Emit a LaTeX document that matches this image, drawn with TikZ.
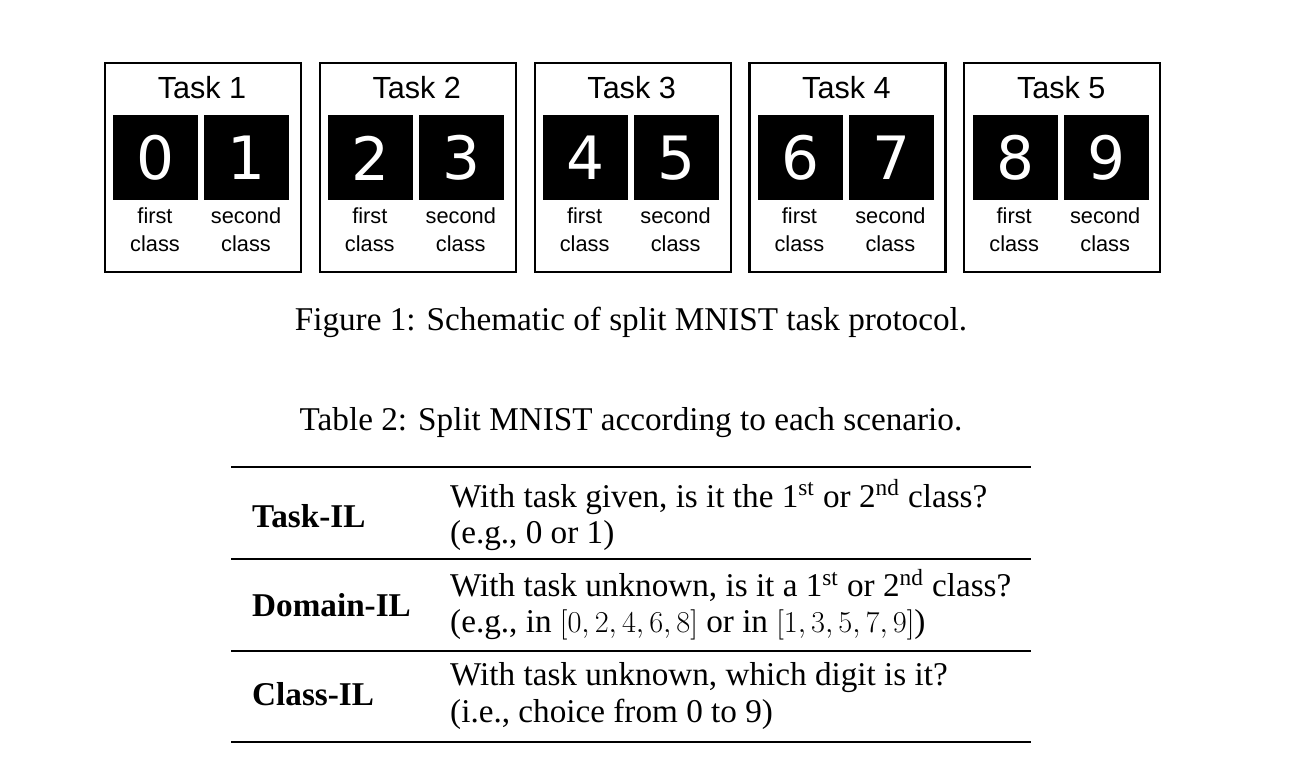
\documentclass[tikz,border=0pt]{standalone}
\usepackage{fontspec}
\setmainfont{Liberation Serif}
\newfontfamily\hv{Liberation Sans}
\newfontfamily\dg{DejaVu Sans}
\begin{document}
\begin{tikzpicture}[x=0.02cm,y=-0.02cm,
  taskbox/.style={draw,line width=1.2pt,minimum width=196*0.02cm,minimum height=209*0.02cm,inner sep=0,anchor=north west},
  img/.style={fill=black,minimum width=85*0.02cm,minimum height=85*0.02cm,inner sep=0,anchor=north west,text=white,font=\dg\fontsize{34}{34}\selectfont},
  ttl/.style={font=\hv\fontsize{17.4}{20}\selectfont},
  sm/.style={font=\hv\fontsize{12.4}{16}\selectfont,align=center},
  captext/.style={font=\fontsize{18.9}{22}\selectfont},
  tb/.style={font=\fontsize{18.9}{20.5}\selectfont,align=left,anchor=west}]
\useasboundingbox (0,0) rectangle (1307,769);
\foreach \i/\a/\b in {0/0/1,1/2/3,2/4/5,3/6/7,4/8/9}{
  \pgfmathsetmacro{\xo}{104+214.8*\i}
  \node[taskbox] (box\i) at (\xo,62) {};
  \node[ttl] (t\i) at (\xo+98,88) {Task \the\numexpr\i+1\relax};
  \node[img] (ia\i) at (\xo+9,115) {\a};
  \node[img] (ib\i) at (\xo+100,115) {\b};
  \node[sm] (la\i) at (\xo+51,230) {first\\class};
  \node[sm] (lb\i) at (\xo+142,230) {second\\class};
}
\node[captext] (c1) at (631,322) {Figure 1: Schematic of split MNIST task protocol.};
\node[captext] (c2) at (631,423) {Table 2: Split MNIST according to each scenario.};
\coordinate (l0) at (231,467); \coordinate (r0) at (1031,467);
\coordinate (l1) at (231,559); \coordinate (r1) at (1031,559);
\coordinate (l2) at (231,651); \coordinate (r2) at (1031,651);
\coordinate (l3) at (231,742); \coordinate (r3) at (1031,742);
\draw[line width=1.6pt] (l0) -- (r0);
\draw[line width=0.7pt] (l1) -- (r1);
\draw[line width=0.7pt] (l2) -- (r2);
\draw[line width=1.6pt] (l3) -- (r3);
\node[tb] (h1) at (246,516) {\textbf{Task-IL}};
\node[tb] (h2) at (246,605) {\textbf{Domain-IL}};
\node[tb] (h3) at (246,694) {\textbf{Class-IL}};
\node[tb] (d1) at (444,515) {With task given, is it the 1\textsuperscript{st} or 2\textsuperscript{nd} class?\\(e.g., 0 or 1)};
\node[tb] (d2) at (444,605) {With task unknown, is it a 1\textsuperscript{st} or 2\textsuperscript{nd} class?\\(e.g., in $[0,2,4,6,8]$ or in $[1,3,5,7,9]$)};
\node[tb] (d3) at (444,696) {With task unknown, which digit is it?\\(i.e., choice from 0 to 9)};
\end{tikzpicture}
\end{document}
